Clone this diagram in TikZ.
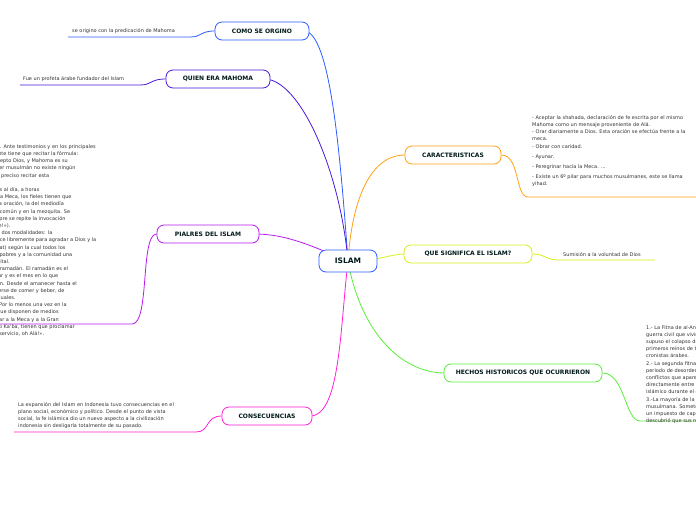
\documentclass[tikz,border=0pt]{standalone}
\usepackage{fontspec}
\setmainfont{DejaVu Sans}
\begin{document}
\begin{tikzpicture}[x=1pt,y=-1pt,
 topic/.style={draw=#1,line width=0.8pt,rounded corners=7pt,fill=white,font=\fontsize{6}{7}\selectfont\bfseries,text=black!80!teal,minimum height=18pt,inner xsep=8pt},
 txt/.style={font=\fontsize{5}{7.2}\selectfont,text=black!80,align=left,anchor=north west,inner sep=0pt},
 lnk/.style={line width=0.8pt,draw=#1}]
\clip (0,0) rectangle (696,520);
\useasboundingbox (0,0) rectangle (696,520);
\definecolor{cb}{HTML}{2A5CFF}\definecolor{cp}{HTML}{4A18D8}\definecolor{co}{HTML}{FFA010}
\definecolor{cmg}{HTML}{B81AEE}\definecolor{cy}{HTML}{D8EE1A}\definecolor{cg}{HTML}{5AEE3A}\definecolor{ck}{HTML}{FF20D8}
\coordinate (c) at (348,261);
% branches
\draw[lnk=cb] (c) .. controls (340,150) and (330,35) .. (305,31);
\draw[lnk=cp] (c) .. controls (340,170) and (300,80) .. (265,79);
\draw[lnk=co] (c) .. controls (352,200) and (370,155) .. (405,155);
\draw[lnk=cmg] (c) .. controls (320,250) and (290,234) .. (255,234);
\draw[lnk=cy] (c) .. controls (380,261) and (390,254) .. (405,254);
\draw[lnk=cg] (c) .. controls (360,330) and (400,373) .. (445,373);
\draw[lnk=ck] (c) .. controls (340,330) and (340,416) .. (310,416);
\node[topic=cb,minimum width=94pt] (n1) at (262,31) {COMO SE ORGINO};
\node[topic=cp,minimum width=104pt] (n2) at (218,79) {QUIEN ERA MAHOMA};
\node[topic=co,minimum width=96pt] (n3) at (453,155) {CARACTERISTICAS};
\node[topic=cmg,minimum width=102pt] (n4) at (208,234) {PIALRES DEL ISLAM};
\node[topic=cy,minimum width=128pt] (n5) at (468,254) {QUE SIGNIFICA EL ISLAM?};
\node[topic=cg,minimum width=158pt] (n6) at (523,373) {HECHOS HISTORICOS QUE OCURRIERON};
\node[topic=ck,minimum width=90pt] (n7) at (267,416) {CONSECUENCIAS};
\node[draw=cb,line width=0.8pt,rounded corners=7pt,fill=white,minimum width=58pt,minimum height=22pt,font=\fontsize{7.5}{8}\selectfont\bfseries,text=black!80!teal] (islam) at (c) {ISLAM};
% leaves
\coordinate (u1a) at (68,37);\coordinate (u1b) at (190,37);
\draw[lnk=cb] (u1a)--(u1b) .. controls (202,37) and (200,31) .. (n1.west);
\node[txt,anchor=south west] at (72,34) {se origino con la predicación de Mahoma};
\coordinate (u2a) at (20,85);\coordinate (u2b) at (140,85);
\draw[lnk=cp] (u2a)--(u2b) .. controls (152,85) and (150,79) .. (n2.west);
\node[txt,anchor=south west] at (23,82) {Fue un profeta árabe fundador del Islam};
\coordinate (u3a) at (528,197);\coordinate (u3b) at (696,197);
\draw[lnk=co] (n3.east) .. controls (520,155) and (515,197) .. (u3a)--(u3b);
\node[txt] at (532,115) {- Aceptar la shahada, declaración de fe escrita por el mismo\\Mahoma como un mensaje proveniente de Alá.\\- Orar diariamente a Dios. Esta oración se efectúa frente a la\\meca.\\- Obrar con caridad.\\[3pt]- Ayunar.\\[3pt]- Peregrinar hacia la Meca. ...\\[3pt]- Existe un 6º pilar para muchos musulmanes, este se llama\\yihad.};
\coordinate (u4a) at (0,324);\coordinate (u4b) at (132,324);
\draw[lnk=cmg] (u4a)--(u4b) .. controls (150,324) and (140,234) .. (n4.west);
\node[txt] at (-79,144) {1. La profesión de fe (shahada). Ante testimonios y en los principales\\momentos de su vida, el creyente tiene que recitar la fórmula:\\«No hay más Dios que Dios excepto Dios, y Mahoma es su\\profeta». Por otra parte, para ser musulmán no existe ningún\\rito similar al bautismo, sólo es preciso recitar esta\\fórmula.\\2. La oración ritual. Cinco veces al día, a horas\\determinadas y en dirección a la Meca, los fieles tienen que\\cumplir con la oración. Una sola oración, la del mediodía\\del viernes, debe ser hecha en común y en la mezquita. Se\\recitan textos del Corán y siempre se repite la invocación\\«Allahu akbar» («¡Alá es grande!»).\\3. La limosna. La limosna tiene dos modalidades: la\\voluntaria (sadaqa) que se ofrece libremente para agradar a Dios y la\\limosna legal u obligatoria (zakat) según la cual todos los\\creyentes han de aportar a los pobres y a la comunidad una\\parte anual de sus rentas y capital.\\4. El ayuno durante el mes del ramadán. El ramadán es el\\noveno mes del calendario lunar y es el mes en lo que\\comenzó la revelación del Corán. Desde el amanecer hasta el\\ocaso, los fieles han de abstenerse de comer y beber, de\\fumar y de tener relaciones sexuales.\\5. La peregrinación a la Meca. Por lo menos una vez en la\\vida, los musulmanes adultos que disponen de medios\\suficientes tienen que peregrinar a la Meca y a la Gran\\Mezquita con la 'piedra negra' o Ka'ba, tienen que proclamar\\«Labbaika» («¡Aquí estoy, a tu servicio, oh Alá!».};
\coordinate (u5a) at (560,260);\coordinate (u5b) at (655,260);
\draw[lnk=cy] (n5.east) .. controls (545,254) and (545,260) .. (u5a)--(u5b);
\node[txt,anchor=south west] at (563,257) {Sumisión a la voluntad de Dios};
\coordinate (u6a) at (640,421);\coordinate (u6b) at (696,421);
\draw[lnk=cg] (n6.east) .. controls (625,373) and (625,421) .. (u6a)--(u6b);
\node[txt] at (646,325) {1.- La Fitna de al-Andalus fue una\\guerra civil que vivió al-Andalus y que\\supuso el colapso del califato y los\\primeros reinos de taifas según los\\cronistas árabes.\\2.- La segunda fitna fue un\\periodo de desorden político y\\conflictos que apareció\\directamente entre el mundo\\islámico durante el califato.\\3.-La mayoría de la población es\\musulmana. Somete a los infieles a\\un impuesto de capitación y\\descubrió que sus recursos.};
\coordinate (u7a) at (14,432);\coordinate (u7b) at (196,432);
\draw[lnk=ck] (u7a)--(u7b) .. controls (210,432) and (205,416) .. (n7.west);
\node[txt] at (18,402) {La expansión del Islam en Indonesia tuvo consecuencias en el\\plano social, económico y político. Desde el punto de vista\\social, la fe islámica dio un nuevo aspecto a la civilización\\indonesia sin desligarla totalmente de su pasado.};
\end{tikzpicture}
\end{document}
